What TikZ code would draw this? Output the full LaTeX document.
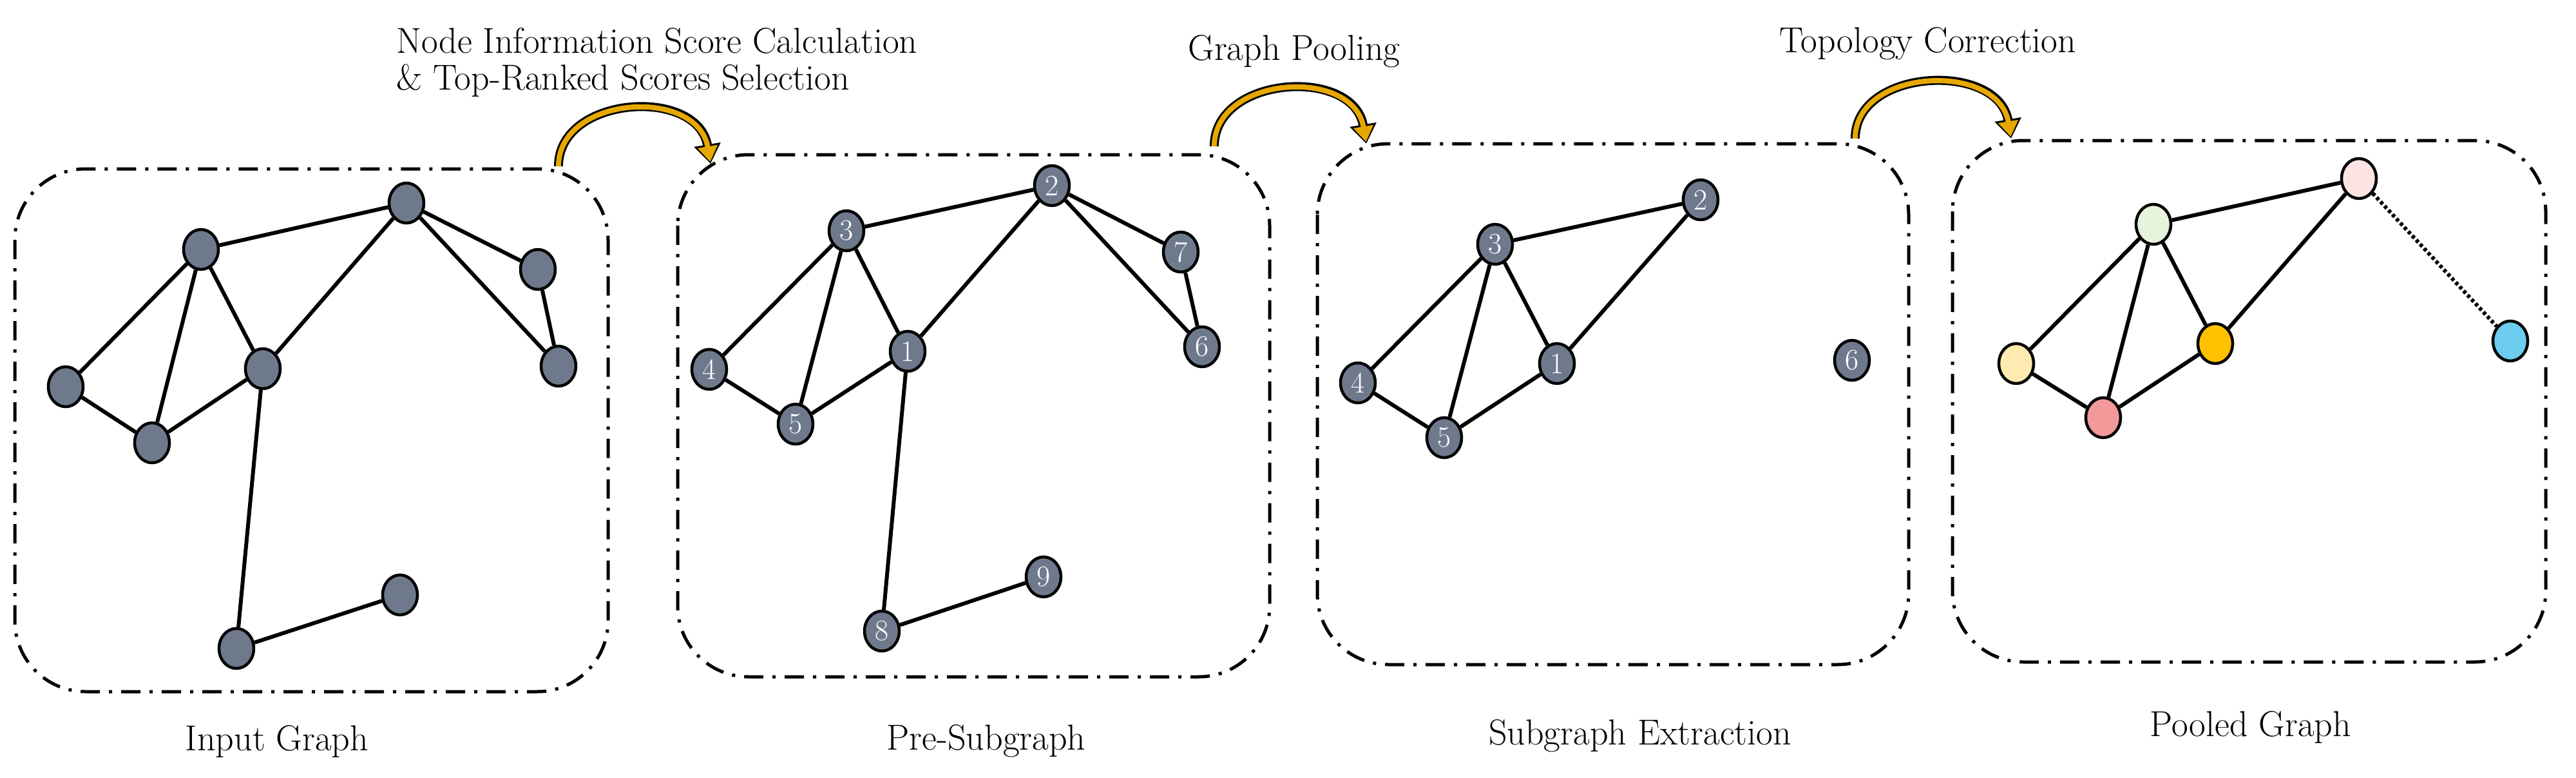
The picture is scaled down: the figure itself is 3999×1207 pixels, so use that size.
\documentclass[tikz,border=0pt]{standalone}
\usetikzlibrary{arrows.meta,shapes.geometric}
\definecolor{nodegray}{HTML}{6E7A8C}
\definecolor{gold}{HTML}{E6A800}
\begin{document}
\begin{tikzpicture}[x=1pt,y=-1pt,
  gn/.style={ellipse,draw=black,line width=4.5pt,fill=nodegray,minimum width=54pt,minimum height=62pt,inner sep=0pt,text=white,font=\fontsize{46}{48}\selectfont},
  cn/.style={gn,text=black},
  box/.style={draw=black,line width=5pt,rounded corners=110pt,dash pattern=on 30pt off 14pt on 5pt off 14pt},
  ed/.style={line width=6pt},
  lbl/.style={font=\fontsize{56}{66}\selectfont,align=left},
  garrow/.style={line width=14pt,draw=black,-{Triangle[length=30pt,width=40pt]}},
  garrowin/.style={line width=8pt,draw=gold,-{Triangle[length=24pt,width=30pt]}}
]
\useasboundingbox (0,0) rectangle (3999,1207);
% boxes
\draw[box] (23,262) rectangle (944,1073);
\draw[box] (1052,240) rectangle (1971,1050);
\draw[box] (2045,223) rectangle (2963,1031);
\draw[box] (3031,218) rectangle (3952,1027);
% panel 1
\node[gn] (a) at (312,387) {};
\node[gn] (b) at (631,315) {};
\node[gn] (c) at (835,418) {};
\node[gn] (d) at (867,568) {};
\node[gn] (e) at (408,572) {};
\node[gn] (f) at (102,600) {};
\node[gn] (g) at (236,687) {};
\node[gn] (h) at (621,923) {};
\node[gn] (i) at (367,1006) {};
\foreach \u/\v in {a/b,a/f,a/g,a/e,b/e,b/c,b/d,c/d,e/g,f/g,e/i,i/h}
  \draw[ed] (\u) -- (\v);
% panel 2
\node[gn] (p2) at (1633,288) {2};
\node[gn] (p3) at (1314,358) {3};
\node[gn] (p7) at (1833,391) {7};
\node[gn] (p1) at (1409,545) {1};
\node[gn] (p4) at (1101,573) {4};
\node[gn] (p6) at (1866,538) {6};
\node[gn] (p5) at (1235,658) {5};
\node[gn] (p9) at (1620,895) {9};
\node[gn] (p8) at (1369,979) {8};
\foreach \u/\v in {p3/p2,p3/p4,p3/p5,p3/p1,p1/p2,p1/p5,p4/p5,p2/p7,p2/p6,p7/p6,p1/p8,p8/p9}
  \draw[ed] (\u) -- (\v);
% panel 3
\node[gn] (s2) at (2640,310) {2};
\node[gn] (s3) at (2321,379) {3};
\node[gn] (s1) at (2417,564) {1};
\node[gn] (s4) at (2108,594) {4};
\node[gn] (s5) at (2242,679) {5};
\node[gn] (s6) at (2875,559) {6};
\foreach \u/\v in {s3/s2,s3/s4,s3/s5,s3/s1,s1/s2,s1/s5,s4/s5}
  \draw[ed] (\u) -- (\v);
% panel 4
\node[cn,fill={rgb,255:red,252;green,228;blue,228}] (qp) at (3662,277) {};
\node[cn,fill={rgb,255:red,232;green,243;blue,220}] (qg) at (3343,348) {};
\node[cn,fill={rgb,255:red,255;green,192;blue,0}] (qy) at (3439,533) {};
\node[cn,fill={rgb,255:red,255;green,235;blue,176}] (qc) at (3130,564) {};
\node[cn,fill={rgb,255:red,244;green,153;blue,154}] (qr) at (3265,648) {};
\node[cn,fill={rgb,255:red,108;green,205;blue,240}] (qb) at (3897,529) {};
\foreach \u/\v in {qg/qp,qg/qc,qg/qr,qg/qy,qy/qp,qy/qr,qc/qr}
  \draw[ed] (\u) -- (\v);
\draw[line width=6pt,dash pattern=on 5pt off 4pt] (qp) -- (qb);
% arrows
\coordinate (a1s) at (867,258); \coordinate (a1e) at (1103,254);
\coordinate (a2s) at (1885,227); \coordinate (a2e) at (2121,223);
\coordinate (a3s) at (2880,215); \coordinate (a3e) at (3122,215);
\foreach \s/\e in {a1s/a1e,a2s/a2e,a3s/a3e}{
  \draw[garrow] (\s) .. controls ([yshift=110pt]\s) and ([xshift=-20pt,yshift=120pt]\e) .. (\e);
  \draw[garrowin,shorten >=3pt] (\s) .. controls ([yshift=110pt]\s) and ([xshift=-20pt,yshift=120pt]\e) .. (\e);
}
% labels
\node[lbl,anchor=west] (t1) at (612,63) {Node Information Score Calculation};
\node[lbl,anchor=west] (t1b) at (612,125) {\& Top-Ranked Scores Selection};
\node[lbl] (t2) at (2009,80) {Graph Pooling};
\node[lbl] (t3) at (2993,68) {Topology Correction};
\node[lbl] (l1) at (430,1150) {Input Graph};
\node[lbl] (l2) at (1531,1150) {Pre-Subgraph};
\node[lbl] (l3) at (2546,1142) {Subgraph Extraction};
\node[lbl] (l4) at (3494,1128) {Pooled Graph};
\end{tikzpicture}
\end{document}
